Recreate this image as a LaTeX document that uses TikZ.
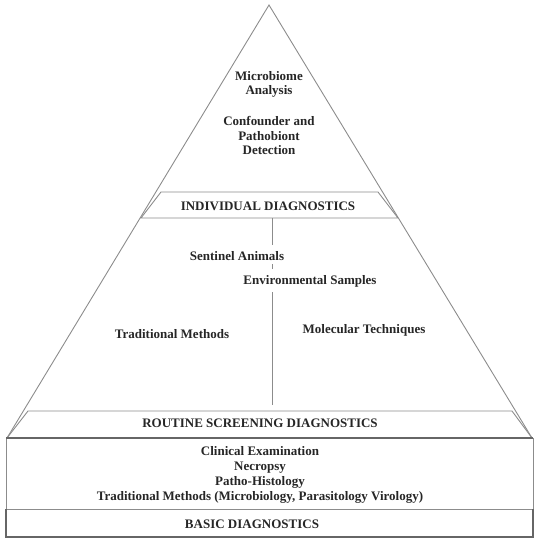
\documentclass[tikz,border=0pt]{standalone}
\usepackage{fontspec}
\setmainfont{Liberation Serif}
\begin{document}
\begin{tikzpicture}[x=1pt,y=-1pt,
  edge/.style={draw=black!45,line width=0.9pt,line join=miter},
  boxline/.style={draw=black!60,line width=1.1pt},
  lbl/.style={inner sep=0pt,align=center,font=\fontsize{13}{14.5}\selectfont\bfseries,text=black!85},
  capslbl/.style={lbl,font=\fontsize{13}{14}\selectfont\bfseries}]
\useasboundingbox (0,0) rectangle (539,550);
% outer triangle
\draw[edge] (269,5) -- (532,438) -- (7,438) -- cycle;
% individual diagnostics band
\draw[edge] (161,192) -- (378,192) -- (398,218) -- (141,218) -- cycle;
% routine screening band
\draw[edge] (28,411) -- (512,411) -- (532,438) -- (7,438) -- cycle;
% vertical divider
\coordinate (v0) at (272,218);
\coordinate (v1) at (272,245);
\coordinate (v2) at (272,264);
\coordinate (v3) at (272,269);
\coordinate (v4) at (272,292);
\coordinate (v5) at (272,405);
\draw[edge] (v0) -- (v1) (v2) -- (v3) (v4) -- (v5);
% base box
\draw[edge] (6,438) rectangle (533,537);
\draw[edge] (6,509) -- (533,509);
\draw[boxline] (6,438) -- (533,438);
\draw[boxline] (6,509) -- (6,537) -- (533,537) -- (533,509);
% texts
\node[lbl] (micro) at (269,84.5) {Microbiome\\Analysis};
\node[lbl] (conf) at (269,135.5) {Confounder and\\Pathobiont\\Detection};
\node[capslbl] (indiv) at (268,206) {INDIVIDUAL DIAGNOSTICS};
\node[lbl] (sent) at (237,256) {Sentinel Animals};
\node[lbl] (env) at (310,281) {Environmental Samples};
\node[lbl] (trad) at (172,334) {Traditional Methods};
\node[lbl] (mol) at (364,330) {Molecular Techniques};
\node[capslbl] (rout) at (260,423) {ROUTINE SCREENING DIAGNOSTICS};
\node[lbl,font=\fontsize{13}{15}\selectfont\bfseries] (basiclist) at (260,474.5) {Clinical Examination\\Necropsy\\Patho-Histology\\Traditional Methods (Microbiology, Parasitology Virology)};
\node[capslbl] (basic) at (252,524) {BASIC DIAGNOSTICS};
\end{tikzpicture}
\end{document}
